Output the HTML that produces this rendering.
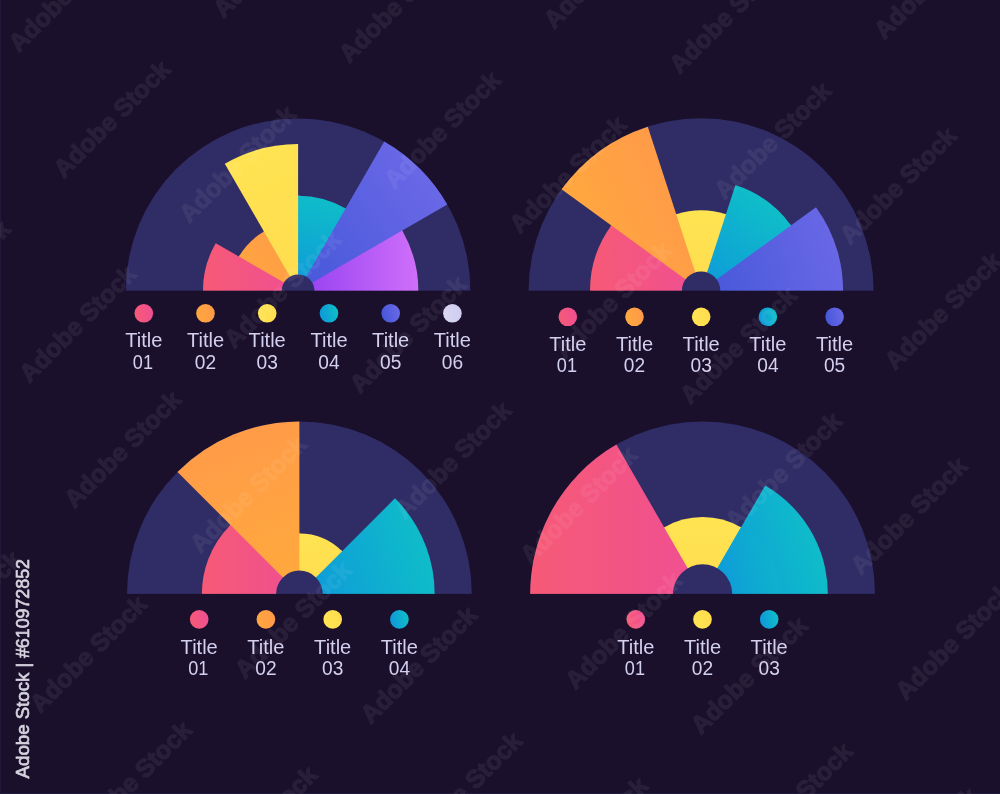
<!DOCTYPE html>
<html><head><meta charset="utf-8"><title>Semicircle infographic charts</title>
<style>
html,body{margin:0;padding:0;background:#1a102c;}
body{width:1000px;height:794px;overflow:hidden;}
svg{display:block;}
.t{font-family:"Liberation Sans",sans-serif;font-size:20.6px;fill:#d3cfee;text-anchor:middle;}
.w{font-family:"Liberation Sans",sans-serif;font-weight:bold;font-size:25px;fill:#fff;stroke:#fff;stroke-width:1.1;stroke-linejoin:round;opacity:.058;text-anchor:middle;dominant-baseline:central;}
.id{font-family:"Liberation Sans",sans-serif;font-size:18px;fill:#d6d3df;stroke:#d6d3df;stroke-width:.65;}
</style></head><body>
<svg width="1000" height="794" viewBox="0 0 1000 794">
<defs>
<linearGradient id="g1" gradientUnits="userSpaceOnUse" x1="203.0" y1="290.7" x2="298.1" y2="290.7"><stop offset="0" stop-color="#f65a76"/><stop offset="1" stop-color="#f04f92"/></linearGradient>
<linearGradient id="g2" gradientUnits="userSpaceOnUse" x1="229.8" y1="290.7" x2="298.1" y2="222.4"><stop offset="0" stop-color="#ffa83e"/><stop offset="1" stop-color="#ff9a49"/></linearGradient>
<linearGradient id="g3" gradientUnits="userSpaceOnUse" x1="224.8" y1="144.1" x2="298.1" y2="290.7"><stop offset="0" stop-color="#ffe452"/><stop offset="1" stop-color="#ffdc4e"/></linearGradient>
<linearGradient id="g4" gradientUnits="userSpaceOnUse" x1="298.1" y1="290.7" x2="326.6" y2="195.7"><stop offset="0" stop-color="#0e98da"/><stop offset="1" stop-color="#0fbec8"/></linearGradient>
<linearGradient id="g5" gradientUnits="userSpaceOnUse" x1="298.1" y1="290.7" x2="435.9" y2="187.3"><stop offset="0" stop-color="#4558d8"/><stop offset="1" stop-color="#6a68e7"/></linearGradient>
<linearGradient id="g6" gradientUnits="userSpaceOnUse" x1="298.1" y1="290.7" x2="418.3" y2="290.7"><stop offset="0" stop-color="#9340f0"/><stop offset="1" stop-color="#cf6ffa"/></linearGradient>
<linearGradient id="g7" gradientUnits="userSpaceOnUse" x1="134.8" y1="315.3" x2="152.8" y2="311.3"><stop offset="0" stop-color="#f65a76"/><stop offset="1" stop-color="#f04f92"/></linearGradient>
<linearGradient id="g8" gradientUnits="userSpaceOnUse" x1="196.5" y1="315.3" x2="214.5" y2="311.3"><stop offset="0" stop-color="#ffa83e"/><stop offset="1" stop-color="#ff9a49"/></linearGradient>
<linearGradient id="g9" gradientUnits="userSpaceOnUse" x1="258.2" y1="315.3" x2="276.2" y2="311.3"><stop offset="0" stop-color="#ffe452"/><stop offset="1" stop-color="#ffdc4e"/></linearGradient>
<linearGradient id="g10" gradientUnits="userSpaceOnUse" x1="320.0" y1="315.3" x2="338.0" y2="311.3"><stop offset="0" stop-color="#0e98da"/><stop offset="1" stop-color="#0fbec8"/></linearGradient>
<linearGradient id="g11" gradientUnits="userSpaceOnUse" x1="381.7" y1="315.3" x2="399.7" y2="311.3"><stop offset="0" stop-color="#4558d8"/><stop offset="1" stop-color="#6a68e7"/></linearGradient>
<linearGradient id="g12" gradientUnits="userSpaceOnUse" x1="443.4" y1="315.3" x2="461.4" y2="311.3"><stop offset="0" stop-color="#d9d7f4"/><stop offset="1" stop-color="#cfccee"/></linearGradient>
<linearGradient id="g13" gradientUnits="userSpaceOnUse" x1="590.1" y1="290.7" x2="701.1" y2="290.7"><stop offset="0" stop-color="#f65a76"/><stop offset="1" stop-color="#f04f92"/></linearGradient>
<linearGradient id="g14" gradientUnits="userSpaceOnUse" x1="563.1" y1="213.1" x2="675.2" y2="161.3"><stop offset="0" stop-color="#ffa83e"/><stop offset="1" stop-color="#ff9a49"/></linearGradient>
<linearGradient id="g15" gradientUnits="userSpaceOnUse" x1="701.1" y1="210.3" x2="701.1" y2="290.7"><stop offset="0" stop-color="#ffe452"/><stop offset="1" stop-color="#ffdc4e"/></linearGradient>
<linearGradient id="g16" gradientUnits="userSpaceOnUse" x1="701.1" y1="290.7" x2="767.8" y2="201.8"><stop offset="0" stop-color="#0e98da"/><stop offset="1" stop-color="#0fbec8"/></linearGradient>
<linearGradient id="g17" gradientUnits="userSpaceOnUse" x1="701.1" y1="290.7" x2="843.1" y2="248.1"><stop offset="0" stop-color="#4558d8"/><stop offset="1" stop-color="#6a68e7"/></linearGradient>
<linearGradient id="g18" gradientUnits="userSpaceOnUse" x1="558.8" y1="318.8" x2="576.8" y2="314.8"><stop offset="0" stop-color="#f65a76"/><stop offset="1" stop-color="#f04f92"/></linearGradient>
<linearGradient id="g19" gradientUnits="userSpaceOnUse" x1="625.5" y1="318.8" x2="643.5" y2="314.8"><stop offset="0" stop-color="#ffa83e"/><stop offset="1" stop-color="#ff9a49"/></linearGradient>
<linearGradient id="g20" gradientUnits="userSpaceOnUse" x1="692.2" y1="318.8" x2="710.2" y2="314.8"><stop offset="0" stop-color="#ffe452"/><stop offset="1" stop-color="#ffdc4e"/></linearGradient>
<linearGradient id="g21" gradientUnits="userSpaceOnUse" x1="758.9" y1="318.8" x2="776.9" y2="314.8"><stop offset="0" stop-color="#0e98da"/><stop offset="1" stop-color="#0fbec8"/></linearGradient>
<linearGradient id="g22" gradientUnits="userSpaceOnUse" x1="825.6" y1="318.8" x2="843.6" y2="314.8"><stop offset="0" stop-color="#4558d8"/><stop offset="1" stop-color="#6a68e7"/></linearGradient>
<linearGradient id="g23" gradientUnits="userSpaceOnUse" x1="201.9" y1="593.9" x2="299.4" y2="593.9"><stop offset="0" stop-color="#f65a76"/><stop offset="1" stop-color="#f04f92"/></linearGradient>
<linearGradient id="g24" gradientUnits="userSpaceOnUse" x1="273.5" y1="576.7" x2="221.8" y2="421.5"><stop offset="0" stop-color="#ffa83e"/><stop offset="1" stop-color="#ff9a49"/></linearGradient>
<linearGradient id="g25" gradientUnits="userSpaceOnUse" x1="299.4" y1="533.5" x2="329.6" y2="593.9"><stop offset="0" stop-color="#ffe452"/><stop offset="1" stop-color="#ffdc4e"/></linearGradient>
<linearGradient id="g26" gradientUnits="userSpaceOnUse" x1="299.4" y1="593.9" x2="434.6" y2="553.3"><stop offset="0" stop-color="#0e98da"/><stop offset="1" stop-color="#0fbec8"/></linearGradient>
<linearGradient id="g27" gradientUnits="userSpaceOnUse" x1="190.2" y1="621.4" x2="208.2" y2="617.4"><stop offset="0" stop-color="#f65a76"/><stop offset="1" stop-color="#f04f92"/></linearGradient>
<linearGradient id="g28" gradientUnits="userSpaceOnUse" x1="256.9" y1="621.4" x2="274.9" y2="617.4"><stop offset="0" stop-color="#ffa83e"/><stop offset="1" stop-color="#ff9a49"/></linearGradient>
<linearGradient id="g29" gradientUnits="userSpaceOnUse" x1="323.7" y1="621.4" x2="341.7" y2="617.4"><stop offset="0" stop-color="#ffe452"/><stop offset="1" stop-color="#ffdc4e"/></linearGradient>
<linearGradient id="g30" gradientUnits="userSpaceOnUse" x1="390.4" y1="621.4" x2="408.4" y2="617.4"><stop offset="0" stop-color="#0e98da"/><stop offset="1" stop-color="#0fbec8"/></linearGradient>
<linearGradient id="g31" gradientUnits="userSpaceOnUse" x1="530.2" y1="593.9" x2="702.6" y2="593.9"><stop offset="0" stop-color="#f65a76"/><stop offset="1" stop-color="#f04f92"/></linearGradient>
<linearGradient id="g32" gradientUnits="userSpaceOnUse" x1="702.6" y1="517.1" x2="702.6" y2="593.9"><stop offset="0" stop-color="#ffe452"/><stop offset="1" stop-color="#ffdc4e"/></linearGradient>
<linearGradient id="g33" gradientUnits="userSpaceOnUse" x1="702.6" y1="593.9" x2="827.8" y2="556.3"><stop offset="0" stop-color="#0e98da"/><stop offset="1" stop-color="#0fbec8"/></linearGradient>
<linearGradient id="g34" gradientUnits="userSpaceOnUse" x1="714.2" y1="593.9" x2="807.1" y2="570.7"><stop offset="0" stop-color="#0e98da"/><stop offset="1" stop-color="#0fbec8"/></linearGradient>
<linearGradient id="g35" gradientUnits="userSpaceOnUse" x1="626.8" y1="621.4" x2="644.8" y2="617.4"><stop offset="0" stop-color="#f65a76"/><stop offset="1" stop-color="#f04f92"/></linearGradient>
<linearGradient id="g36" gradientUnits="userSpaceOnUse" x1="693.5" y1="621.4" x2="711.5" y2="617.4"><stop offset="0" stop-color="#ffe452"/><stop offset="1" stop-color="#ffdc4e"/></linearGradient>
<linearGradient id="g37" gradientUnits="userSpaceOnUse" x1="760.2" y1="621.4" x2="778.2" y2="617.4"><stop offset="0" stop-color="#0e98da"/><stop offset="1" stop-color="#0fbec8"/></linearGradient>
</defs>
<rect width="1000" height="794" fill="#1a102c"/>
<rect x="0" y="0" width="1" height="794" fill="#221a3a"/>
<rect x="0" y="793" width="1000" height="1" fill="#231b3a"/>
<g>
<circle cx="298.10" cy="290.70" r="172.3" fill="#302c65"/>
<path d="M298.10 290.70L203.23 297.33A95.1 95.1 0 0 1 215.74 243.15Z" fill="url(#g1)"/>
<path d="M298.10 290.70L238.25 257.80A68.3 68.3 0 0 1 239.68 255.32Z" fill="url(#g1)"/>
<path d="M298.10 290.70L238.95 256.55A68.3 68.3 0 0 1 263.95 231.55Z" fill="url(#g2)"/>
<path d="M298.10 290.70L262.72 232.28A68.3 68.3 0 0 1 265.20 230.85Z" fill="url(#g2)"/>
<path d="M298.10 290.70L224.80 163.74A146.6 146.6 0 0 1 298.10 144.10Z" fill="url(#g3)"/>
<path d="M298.10 290.70L296.11 195.72A95 95 0 0 1 300.09 195.72Z" fill="url(#g3)"/>
<path d="M298.10 290.70L298.10 195.70A95 95 0 0 1 345.60 208.43Z" fill="url(#g4)"/>
<path d="M298.10 290.70L343.87 207.45A95 95 0 0 1 347.31 209.44Z" fill="url(#g4)"/>
<path d="M298.10 290.70L384.25 141.48A172.3 172.3 0 0 1 447.32 204.55Z" fill="url(#g5)"/>
<path d="M298.10 290.70L400.91 228.43A120.2 120.2 0 0 1 403.43 232.79Z" fill="url(#g5)"/>
<path d="M298.10 290.70L402.20 230.60A120.2 120.2 0 0 1 418.01 299.08Z" fill="url(#g6)"/>
<circle cx="298.10" cy="290.70" r="16.3" fill="#302c65"/>
<rect x="122" y="290.70" width="352" height="175.30" fill="#1a102c"/>
</g>
<circle cx="143.8" cy="313.3" r="9.3" fill="url(#g7)"/>
<text class="t" transform="translate(143.8 347.4) scale(.975 1)">Title</text>
<text class="t" transform="translate(142.9 368.7) scale(0.88 1)">01</text>
<circle cx="205.5" cy="313.3" r="9.3" fill="url(#g8)"/>
<text class="t" transform="translate(205.5 347.4) scale(.975 1)">Title</text>
<text class="t" transform="translate(205.5 368.7) scale(0.93 1)">02</text>
<circle cx="267.2" cy="313.3" r="9.3" fill="url(#g9)"/>
<text class="t" transform="translate(267.2 347.4) scale(.975 1)">Title</text>
<text class="t" transform="translate(267.2 368.7) scale(0.93 1)">03</text>
<circle cx="329.0" cy="313.3" r="9.3" fill="url(#g10)"/>
<text class="t" transform="translate(329.0 347.4) scale(.975 1)">Title</text>
<text class="t" transform="translate(329.0 368.7) scale(0.93 1)">04</text>
<circle cx="390.7" cy="313.3" r="9.3" fill="url(#g11)"/>
<text class="t" transform="translate(390.7 347.4) scale(.975 1)">Title</text>
<text class="t" transform="translate(390.7 368.7) scale(0.93 1)">05</text>
<circle cx="452.4" cy="313.3" r="9.3" fill="url(#g12)"/>
<text class="t" transform="translate(452.4 347.4) scale(.975 1)">Title</text>
<text class="t" transform="translate(452.4 368.7) scale(0.93 1)">06</text>
<g>
<circle cx="701.10" cy="290.70" r="172.5" fill="#302c65"/>
<path d="M701.10 290.70L590.37 298.44A111 111 0 0 1 611.30 225.46Z" fill="url(#g13)"/>
<path d="M701.10 290.70L609.95 227.35A111 111 0 0 1 612.69 223.59Z" fill="url(#g13)"/>
<path d="M701.10 290.70L561.54 189.31A172.5 172.5 0 0 1 647.79 126.64Z" fill="url(#g14)"/>
<path d="M701.10 290.70L674.66 214.77A80.4 80.4 0 0 1 677.86 213.73Z" fill="url(#g14)"/>
<path d="M701.10 290.70L676.26 214.24A80.4 80.4 0 0 1 725.94 214.24Z" fill="url(#g15)"/>
<path d="M701.10 290.70L724.34 213.73A80.4 80.4 0 0 1 727.54 214.77Z" fill="url(#g15)"/>
<path d="M701.10 290.70L735.43 185.04A111.1 111.1 0 0 1 790.98 225.40Z" fill="url(#g16)"/>
<path d="M701.10 290.70L789.59 223.53A111.1 111.1 0 0 1 792.33 227.29Z" fill="url(#g16)"/>
<path d="M701.10 290.70L815.98 207.23A142 142 0 0 1 842.75 300.61Z" fill="url(#g17)"/>
<circle cx="701.10" cy="290.70" r="19.2" fill="#302c65"/>
<rect x="525" y="290.70" width="353" height="175.30" fill="#1a102c"/>
</g>
<circle cx="567.8" cy="316.8" r="9.3" fill="url(#g18)"/>
<text class="t" transform="translate(567.8 350.6) scale(.975 1)">Title</text>
<text class="t" transform="translate(566.9 372.0) scale(0.88 1)">01</text>
<circle cx="634.5" cy="316.8" r="9.3" fill="url(#g19)"/>
<text class="t" transform="translate(634.5 350.6) scale(.975 1)">Title</text>
<text class="t" transform="translate(634.5 372.0) scale(0.93 1)">02</text>
<circle cx="701.2" cy="316.8" r="9.3" fill="url(#g20)"/>
<text class="t" transform="translate(701.2 350.6) scale(.975 1)">Title</text>
<text class="t" transform="translate(701.2 372.0) scale(0.93 1)">03</text>
<circle cx="767.9" cy="316.8" r="9.3" fill="url(#g21)"/>
<text class="t" transform="translate(767.9 350.6) scale(.975 1)">Title</text>
<text class="t" transform="translate(767.9 372.0) scale(0.93 1)">04</text>
<circle cx="834.6" cy="316.8" r="9.3" fill="url(#g22)"/>
<text class="t" transform="translate(834.6 350.6) scale(.975 1)">Title</text>
<text class="t" transform="translate(834.6 372.0) scale(0.93 1)">05</text>
<g>
<circle cx="299.40" cy="593.90" r="172.4" fill="#302c65"/>
<path d="M299.40 593.90L202.14 600.70A97.5 97.5 0 0 1 230.46 524.96Z" fill="url(#g23)"/>
<path d="M299.40 593.90L229.03 526.42A97.5 97.5 0 0 1 231.92 523.53Z" fill="url(#g23)"/>
<path d="M299.40 593.90L177.49 471.99A172.4 172.4 0 0 1 299.40 421.50Z" fill="url(#g24)"/>
<path d="M299.40 593.90L298.14 533.51A60.4 60.4 0 0 1 300.66 533.51Z" fill="url(#g24)"/>
<path d="M299.40 593.90L299.40 533.50A60.4 60.4 0 0 1 342.11 551.19Z" fill="url(#g25)"/>
<path d="M299.40 593.90L341.21 550.31A60.4 60.4 0 0 1 342.99 552.09Z" fill="url(#g25)"/>
<path d="M299.40 593.90L395.00 498.30A135.2 135.2 0 0 1 434.27 603.33Z" fill="url(#g26)"/>
<circle cx="299.40" cy="593.90" r="23.3" fill="#302c65"/>
<rect x="123" y="593.90" width="352" height="175.10" fill="#1a102c"/>
</g>
<circle cx="199.2" cy="619.4" r="9.3" fill="url(#g27)"/>
<text class="t" transform="translate(199.2 653.6) scale(.975 1)">Title</text>
<text class="t" transform="translate(198.3 674.9) scale(0.88 1)">01</text>
<circle cx="265.9" cy="619.4" r="9.3" fill="url(#g28)"/>
<text class="t" transform="translate(265.9 653.6) scale(.975 1)">Title</text>
<text class="t" transform="translate(265.9 674.9) scale(0.93 1)">02</text>
<circle cx="332.7" cy="619.4" r="9.3" fill="url(#g29)"/>
<text class="t" transform="translate(332.7 653.6) scale(.975 1)">Title</text>
<text class="t" transform="translate(332.7 674.9) scale(0.93 1)">03</text>
<circle cx="399.4" cy="619.4" r="9.3" fill="url(#g30)"/>
<text class="t" transform="translate(399.4 653.6) scale(.975 1)">Title</text>
<text class="t" transform="translate(399.4 674.9) scale(0.93 1)">04</text>
<g>
<circle cx="702.60" cy="593.90" r="172.4" fill="#302c65"/>
<path d="M702.60 593.90L530.62 605.93A172.4 172.4 0 0 1 616.40 444.60Z" fill="url(#g31)"/>
<path d="M702.60 593.90L662.82 528.21A76.8 76.8 0 0 1 665.60 526.60Z" fill="url(#g31)"/>
<path d="M702.60 593.90L664.20 527.39A76.8 76.8 0 0 1 741.00 527.39Z" fill="url(#g32)"/>
<path d="M702.60 593.90L739.60 526.60A76.8 76.8 0 0 1 742.38 528.21Z" fill="url(#g32)"/>
<path d="M702.60 593.90L765.20 485.47A125.2 125.2 0 0 1 827.50 602.63Z" fill="url(#g33)"/>
<path d="M702.60 593.90L741.30 526.87A77.4 77.4 0 0 1 779.81 599.30Z" fill="url(#g34)"/>
<circle cx="702.60" cy="593.90" r="29.6" fill="#302c65"/>
<rect x="527" y="593.90" width="352" height="175.10" fill="#1a102c"/>
</g>
<circle cx="635.8" cy="619.4" r="9.3" fill="url(#g35)"/>
<text class="t" transform="translate(635.8 653.6) scale(.975 1)">Title</text>
<text class="t" transform="translate(634.9 674.9) scale(0.88 1)">01</text>
<circle cx="702.5" cy="619.4" r="9.3" fill="url(#g36)"/>
<text class="t" transform="translate(702.5 653.6) scale(.975 1)">Title</text>
<text class="t" transform="translate(702.5 674.9) scale(0.93 1)">02</text>
<circle cx="769.2" cy="619.4" r="9.3" fill="url(#g37)"/>
<text class="t" transform="translate(769.2 653.6) scale(.975 1)">Title</text>
<text class="t" transform="translate(769.2 674.9) scale(0.93 1)">03</text>
<g>
<text class="w" transform="translate(-59.1 -52.0) rotate(-45)">Adobe Stock</text>
<text class="w" transform="translate(66.5 -7.1) rotate(-45)">Adobe Stock</text>
<text class="w" transform="translate(-48.4 278.3) rotate(-45)">Adobe Stock</text>
<text class="w" transform="translate(111.4 118.5) rotate(-45)">Adobe Stock</text>
<text class="w" transform="translate(271.2 -41.3) rotate(-45)">Adobe Stock</text>
<text class="w" transform="translate(-82.6 483.1) rotate(-45)">Adobe Stock</text>
<text class="w" transform="translate(77.2 323.3) rotate(-45)">Adobe Stock</text>
<text class="w" transform="translate(237.0 163.5) rotate(-45)">Adobe Stock</text>
<text class="w" transform="translate(396.8 3.7) rotate(-45)">Adobe Stock</text>
<text class="w" transform="translate(-37.6 608.7) rotate(-45)">Adobe Stock</text>
<text class="w" transform="translate(122.2 448.9) rotate(-45)">Adobe Stock</text>
<text class="w" transform="translate(282.0 289.1) rotate(-45)">Adobe Stock</text>
<text class="w" transform="translate(441.8 129.3) rotate(-45)">Adobe Stock</text>
<text class="w" transform="translate(601.6 -30.5) rotate(-45)">Adobe Stock</text>
<text class="w" transform="translate(-71.8 813.5) rotate(-45)">Adobe Stock</text>
<text class="w" transform="translate(88.0 653.6) rotate(-45)">Adobe Stock</text>
<text class="w" transform="translate(247.8 493.8) rotate(-45)">Adobe Stock</text>
<text class="w" transform="translate(407.6 334.0) rotate(-45)">Adobe Stock</text>
<text class="w" transform="translate(567.4 174.2) rotate(-45)">Adobe Stock</text>
<text class="w" transform="translate(727.2 14.4) rotate(-45)">Adobe Stock</text>
<text class="w" transform="translate(132.9 779.2) rotate(-45)">Adobe Stock</text>
<text class="w" transform="translate(292.7 619.4) rotate(-45)">Adobe Stock</text>
<text class="w" transform="translate(452.5 459.6) rotate(-45)">Adobe Stock</text>
<text class="w" transform="translate(612.4 299.8) rotate(-45)">Adobe Stock</text>
<text class="w" transform="translate(772.2 140.0) rotate(-45)">Adobe Stock</text>
<text class="w" transform="translate(932.0 -19.8) rotate(-45)">Adobe Stock</text>
<text class="w" transform="translate(258.5 824.2) rotate(-45)">Adobe Stock</text>
<text class="w" transform="translate(418.3 664.4) rotate(-45)">Adobe Stock</text>
<text class="w" transform="translate(578.1 504.6) rotate(-45)">Adobe Stock</text>
<text class="w" transform="translate(737.9 344.8) rotate(-45)">Adobe Stock</text>
<text class="w" transform="translate(897.7 185.0) rotate(-45)">Adobe Stock</text>
<text class="w" transform="translate(1057.5 25.2) rotate(-45)">Adobe Stock</text>
<text class="w" transform="translate(463.3 790.0) rotate(-45)">Adobe Stock</text>
<text class="w" transform="translate(623.1 630.2) rotate(-45)">Adobe Stock</text>
<text class="w" transform="translate(782.9 470.4) rotate(-45)">Adobe Stock</text>
<text class="w" transform="translate(942.7 310.6) rotate(-45)">Adobe Stock</text>
<text class="w" transform="translate(588.9 835.0) rotate(-45)">Adobe Stock</text>
<text class="w" transform="translate(748.7 675.1) rotate(-45)">Adobe Stock</text>
<text class="w" transform="translate(908.5 515.3) rotate(-45)">Adobe Stock</text>
<text class="w" transform="translate(1068.3 355.5) rotate(-45)">Adobe Stock</text>
<text class="w" transform="translate(793.7 800.7) rotate(-45)">Adobe Stock</text>
<text class="w" transform="translate(953.5 640.9) rotate(-45)">Adobe Stock</text>
<text class="w" transform="translate(919.2 845.7) rotate(-45)">Adobe Stock</text>
<text class="w" transform="translate(1079.0 685.9) rotate(-45)">Adobe Stock</text>
</g>
<text class="id" transform="translate(29.2 778.4) rotate(-90)"><tspan x="0" textLength="105.7" lengthAdjust="spacingAndGlyphs">Adobe Stock</tspan><tspan x="106"> | </tspan><tspan x="120.3" textLength="99.1" lengthAdjust="spacingAndGlyphs">#610972852</tspan></text>
</svg>
</body></html>
